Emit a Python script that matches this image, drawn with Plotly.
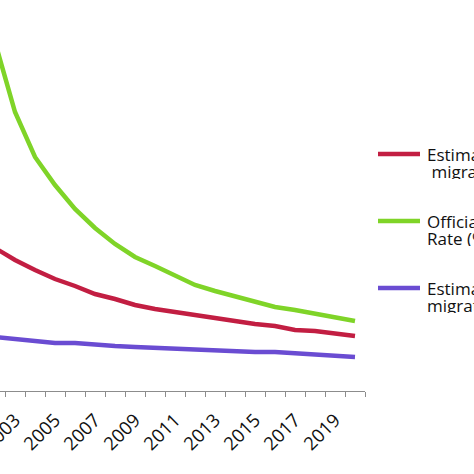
import plotly.graph_objects as go

years = [str(y) for y in range(2002, 2021)]
official_rate = [17.45, 13.95, 11.7, 10.3, 9.1, 8.15, 7.35, 6.7, 6.25, 5.8,
                 5.3, 5.0, 4.75, 4.45, 4.2, 4.05, 3.85, 3.65, 3.5]
est_with_migration = [7.15, 6.55, 6.05, 5.6, 5.25, 4.85, 4.6, 4.3, 4.1, 3.95,
                      3.75, 3.6, 3.5, 3.35, 3.25, 3.05, 3.0, 2.85, 2.75]
est_without_migration = [2.7, 2.6, 2.5, 2.4, 2.4, 2.3, 2.25, 2.2, 2.15, 2.15,
                         2.05, 2.0, 2.0, 1.95, 1.95, 1.9, 1.85, 1.8, 1.7]
tick_text = [y if int(y) % 2 == 1 else "" for y in years]

RED = "#C21E42"
GREEN = "#7FD428"
PURPLE = "#6A4CD2"
FONT = "Open Sans"

fig = go.Figure()
for vals, col in [(est_without_migration, PURPLE), (est_with_migration, RED), (official_rate, GREEN)]:
    fig.add_trace(go.Scatter(x=years, y=vals, mode="lines",
                             line=dict(color=col, width=4.5), showlegend=False))

fig.update_layout(
    width=474, height=474,
    margin=dict(l=0, r=109, t=0, b=83),
    paper_bgcolor="white", plot_bgcolor="white",
    xaxis=dict(type="category", range=[0.25, 18.5], tickson="boundaries",
               tickmode="array", tickvals=years, ticktext=tick_text,
               tickangle=-45, ticks="outside", ticklen=5, tickcolor="#8C8C8C",
               ticklabelstandoff=10,
               showline=True, linecolor="#8C8C8C", linewidth=1.3,
               showgrid=False, zeroline=False, automargin=False,
               tickfont=dict(family=FONT, size=18.5, color="#111")),
    yaxis=dict(range=[0, 19.55], visible=False, showgrid=False, zeroline=False),
)

fig.add_annotation(text="<b>Years</b>", xref="paper", yref="y", x=165/365, y=-3.55,
                   showarrow=False, xanchor="center", yanchor="middle",
                   font=dict(family=FONT, size=16, color="#111"))

legend = [
    (RED, 154, ["Estimated rate with", " migration"]),
    (GREEN, 221, ["Official Unemployment", "Rate (%)"]),
    (PURPLE, 288, ["Estimated rate without", "migration"]),
]
for col, py, lines in legend:
    v = (391 - py) / 20
    fig.add_shape(type="line", xref="paper", yref="y", x0=378/365, x1=420/365,
                  y0=v, y1=v, line=dict(color=col, width=4.5))
    for i, t in enumerate(lines):
        fig.add_annotation(text=t, xref="paper", yref="y", x=425/365, y=v - i*0.85,
                           showarrow=False, xanchor="left", yanchor="middle",
                           height=16,
                           font=dict(family=FONT, size=17, color="#111"))

fig.write_html("out.html")
